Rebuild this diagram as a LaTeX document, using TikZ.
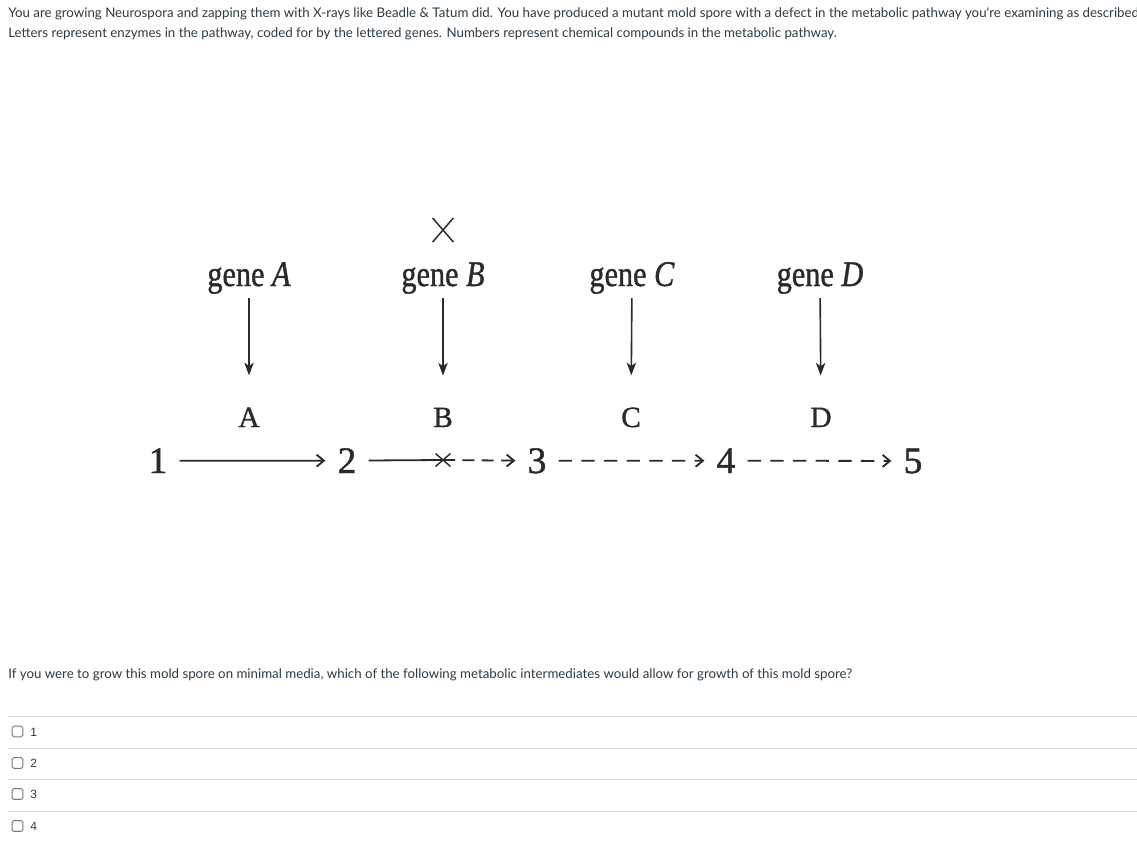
\documentclass[tikz,border=0pt]{standalone}
\usepackage{fontspec}
\setmainfont{Liberation Serif}
\newfontfamily\diagf{Liberation Serif}[FakeBold=1.2]
\newfontfamily\lato{Lato}
\newfontfamily\arialf{Liberation Sans}
\usetikzlibrary{arrows.meta,shapes.misc}
\definecolor{txt}{HTML}{2D3B45}
\definecolor{ink}{HTML}{2A2A2A}
\definecolor{rule}{HTML}{DDDDDD}
\definecolor{boxc}{HTML}{777777}
\tikzset{
  para/.style={anchor=base west,inner sep=0pt,text=txt,font=\lato\fontsize{9.96pt}{12pt}\selectfont},
  genelbl/.style={anchor=base,inner sep=0pt,text=ink,font=\diagf\fontsize{27pt}{30pt}\selectfont},
  enzlbl/.style={anchor=base,inner sep=0pt,text=ink,font=\diagf\fontsize{22pt}{24pt}\selectfont},
  cmpd/.style={anchor=base,inner xsep=9pt,inner ysep=0pt,text=ink,font=\diagf\fontsize{28pt}{30pt}\selectfont},
  downarr/.style={draw=ink,line width=1.2pt,-{Stealth[length=9.5pt,width=7pt,inset=2.5pt]},shorten <=3pt,shorten >=24pt},
  solidarr/.style={draw=ink,line width=1.35pt,-{Straight Barb[length=5.5pt,width=9pt,line width=1.4pt]}},
  dasharr/.style={solidarr,dash pattern=on 10pt off 7pt},
  xmark/.style={cross out,draw=ink,line width=1.1pt,inner sep=0pt},
  optbox/.style={draw=boxc,line width=0.7pt,rounded corners=1.2pt,minimum size=8pt,inner sep=0pt},
  optnum/.style={anchor=base west,inner sep=0pt,text=txt,font=\arialf\fontsize{9pt}{10pt}\selectfont},
}
\begin{document}
\begin{tikzpicture}[x=0.75pt,y=-0.75pt]
\useasboundingbox (0,0) rectangle (1137,852);
\fill[white] (0,0) rectangle (1137,852);
\clip (0,0) rectangle (1137,852);
% header text
\node[para] (t1) at (8,18) {You are growing Neurospora and zapping them with X-rays like Beadle \& Tatum did. You have produced a mutant mold spore with a defect in the metabolic pathway you're examining as described};
\node[para] (t2) at (8,38) {Letters represent enzymes in the pathway, coded for by the lettered genes. Numbers represent chemical compounds in the metabolic pathway.};
% mutation mark above gene B
\node[xmark,minimum width=14.5pt,minimum height=17pt] (xg) at (443,230) {};
% genes
\node[genelbl] (gA) at (249,286) {\scalebox{0.84}[1]{gene \textit{A}}};
\node[genelbl] (gB) at (443,286) {\scalebox{0.84}[1]{gene \textit{B}}};
\node[genelbl] (gC) at (632,286) {\scalebox{0.84}[1]{gene \textit{C}}};
\node[genelbl] (gD) at (820,286) {\scalebox{0.84}[1]{gene \textit{D}}};
% enzymes
\node[enzlbl] (eA) at (249,427) {A};
\node[enzlbl] (eB) at (443,427) {B};
\node[enzlbl] (eC) at (631,427) {C};
\node[enzlbl] (eD) at (821,427) {D};
\foreach \g/\e in {gA/eA,gB/eB,gC/eC,gD/eD}{
  \draw[downarr] (\g) -- (\e);
}
% compounds
\node[cmpd] (c1) at (158,473) {1};
\node[cmpd] (c2) at (347,473) {2};
\node[cmpd] (c3) at (537,473) {3};
\node[cmpd] (c4) at (726,473) {4};
\node[cmpd] (c5) at (913,473) {5};
\node[xmark,minimum width=10pt,minimum height=8.5pt] (xl) at (443,460) {};
\draw[solidarr] (c1) -- (c2);
\draw[draw=ink,line width=1.35pt] (c2) -- (xl.center);
\draw[solidarr,dash pattern=on 9pt off 5.5pt] (xl.center) -- (c3);
\draw[dasharr] (c3) -- (c4);
\draw[dasharr] (c4) -- (c5);
% question
\node[para] (q) at (8,678) {If you were to grow this mold spore on minimal media, which of the following metabolic intermediates would allow for growth of this mold spore?};
% options
\foreach \y/\n in {716/r1,748/r2,779/r3,811/r4}{
  \coordinate (\n l) at (8,\y);
  \coordinate (\n r) at (1137,\y);
  \draw[rule,line width=0.75pt] (\n l) -- (\n r);
}
\foreach \y/\k in {731.5/1,763/2,794/3,826/4}{
  \node[optbox] (b\k) at (17.5,\y) {};
  \node[optnum] (o\k) at (30,\y+4.5) {\k};
}
\end{tikzpicture}
\end{document}
